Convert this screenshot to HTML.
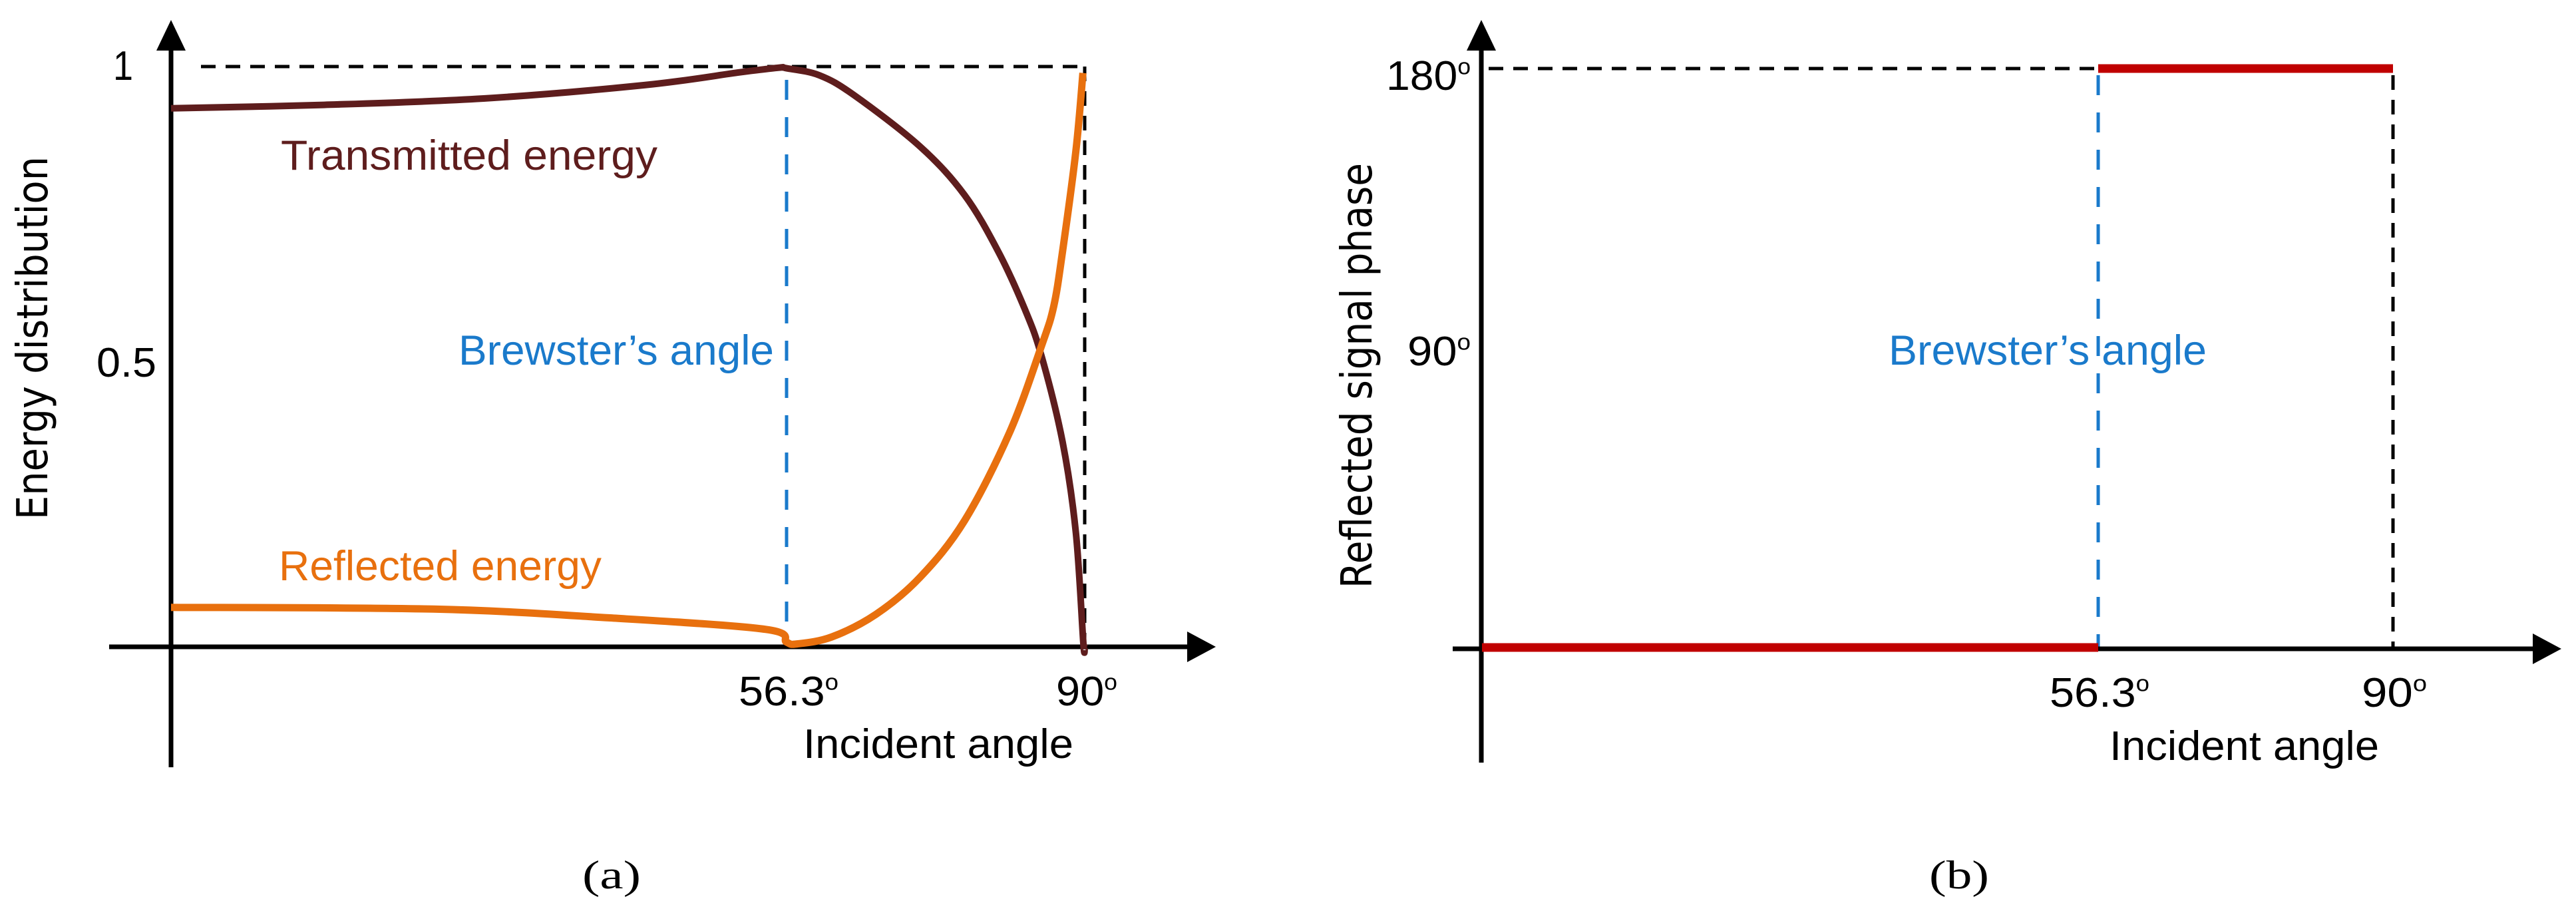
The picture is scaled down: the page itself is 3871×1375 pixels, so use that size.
<!DOCTYPE html>
<html><head><meta charset="utf-8">
<style>
html,body{margin:0;padding:0;background:#fff;}
svg{display:block;}
.lbl{font-family:"Liberation Sans",sans-serif;}
.ttl{font-family:"DejaVu Sans","Liberation Sans",sans-serif;}
.cap{font-family:"Liberation Serif",serif;}
</style></head>
<body>
<svg id="fig" width="3871" height="1375" viewBox="0 0 3871 1375" xmlns="http://www.w3.org/2000/svg">
  <g id="panelA"></g>
  <g id="panelB"></g>
</svg>
<script>
// ---- data ----
const xTickAngles = [0, 56.3, 90];
const xTickLabels = ["", "56.3", "90"];
const transAngles = [0, 14, 28.6, 43.3, 52, 55.6, 56.3, 60, 63.9, 71.4, 76.4, 80.2, 83.2, 85.1, 87.5, 89.0, 89.85, 90];
const transValues = [0.928, 0.934, 0.945, 0.968, 0.99, 0.998, 0.997, 0.985, 0.951, 0.862, 0.779, 0.682, 0.583, 0.502, 0.353, 0.197, 0.006, 0];
const reflAngles = [0, 24, 40, 54.4, 56.3, 57.5, 61.4, 66.4, 71.4, 76.4, 81.5, 85.1, 86.5, 87.5, 89.0, 89.8];
const reflValues = [0.068, 0.065, 0.05, 0.03, 0.008, 0.005, 0.017, 0.056, 0.12, 0.217, 0.369, 0.518, 0.587, 0.682, 0.854, 0.989];
const phaseAngles = [0, 56.3, 56.3, 90];
const phaseValues = [0, 0, 180, 180];
const yTicksA = [1, 0.5];
const yTickLabelsA = ["1", "0.5"];
const yTicksB = [180, 90];
const yTickLabelsB = ["180", "90"];

const NS = "http://www.w3.org/2000/svg";
function mk(parent, tag, attrs){ const e=document.createElementNS(NS,tag); for(const k in attrs) e.setAttribute(k,attrs[k]); parent.appendChild(e); return e; }

function makeX(p0,p1,p2){ return a => a<=56.3 ? p0+(a/56.3)*(p1-p0) : p1+((a-56.3)/33.7)*(p2-p1); }
const xA = makeX(257,1182,1630);
const yA = v => 972 - v*872;
const xB = makeX(2227,3153,3596);
const yB = v => 973 - v/180*870;

function smooth(pts){
  let d="M"+pts[0][0]+","+pts[0][1];
  for(let i=0;i<pts.length-1;i++){
    const p0=pts[Math.max(0,i-1)],p1=pts[i],p2=pts[i+1],p3=pts[Math.min(pts.length-1,i+2)];
    const c1=[p1[0]+(p2[0]-p0[0])/6,p1[1]+(p2[1]-p0[1])/6];
    const c2=[p2[0]-(p3[0]-p1[0])/6,p2[1]-(p3[1]-p1[1])/6];
    d+=" C"+c1[0].toFixed(1)+","+c1[1].toFixed(1)+" "+c2[0].toFixed(1)+","+c2[1].toFixed(1)+" "+p2[0].toFixed(1)+","+p2[1].toFixed(1);
  }
  return d;
}
function txt(g, s, x, y, size, cls, fill, len, name, deg){
  const t=mk(g,"text",{x:x,y:y,"font-size":size,"class":cls,fill:fill});
  
  
  t.appendChild(document.createTextNode(s));
  if(deg){ const ts=mk(t,"tspan",{"font-size":size*0.55,dy:-size*0.38}); ts.appendChild(document.createTextNode("o")); }
  if(len){ t.setAttribute("textLength",len); t.setAttribute("lengthAdjust","spacingAndGlyphs"); }
  return t;
}

// ---- Panel A ----
const A=document.getElementById("panelA");
let e;
e=mk(A,"line",{x1:xA(0)+45,y1:yA(1),x2:xA(90),y2:yA(1),stroke:"#000","stroke-width":5,"stroke-dasharray":"22,15"});
 
e=mk(A,"line",{x1:xA(90),y1:yA(1),x2:xA(90),y2:yA(0),stroke:"#000","stroke-width":5,"stroke-dasharray":"22,15"});
 
e=mk(A,"line",{x1:xA(56.3),y1:yA(1)+20,x2:xA(56.3),y2:yA(0),stroke:"#1a7acb","stroke-width":5,"stroke-dasharray":"30,26"});
 
e=mk(A,"line",{x1:257,y1:1153,x2:257,y2:75,stroke:"#000","stroke-width":7});
 
e=mk(A,"polygon",{points:"257,30 235,76 279,76",fill:"#000"});
 
e=mk(A,"line",{x1:164,y1:972,x2:1790,y2:972,stroke:"#000","stroke-width":7});
 
e=mk(A,"polygon",{points:"1827,972 1784,949 1784,995",fill:"#000"});
 
let pts=transAngles.map((a,i)=>[xA(a),yA(transValues[i])]);
e=mk(A,"path",{d:smooth(pts),fill:"none",stroke:"#5e1d1d","stroke-width":10});
 
pts=reflAngles.map((a,i)=>[xA(a),yA(reflValues[i])]);
e=mk(A,"path",{d:smooth(pts),fill:"none",stroke:"#e8700e","stroke-width":11});
 
txt(A,"Transmitted energy",422,255,63,"lbl","#5e1d1d",566,"transmitted-energy-label");
txt(A,"Reflected energy",419,872,63,"lbl","#e8700e",485,"reflected-energy-label");
txt(A,"Brewster\u2019s angle",689,548,63,"lbl","#1a7acb",474,"brewster-angle-label");
txt(A,yTickLabelsA[0],170,120,62,"lbl","#000",30,"y-tick-1");
txt(A,yTickLabelsA[1],145,566,62,"lbl","#000",90,"y-tick-0-5");
txt(A,xTickLabels[1],1110,1060,62,"lbl","#000",150,"x-tick-56-3",true);
txt(A,xTickLabels[2],1587,1060,62,"lbl","#000",92,"x-tick-90",true);
txt(A,"Incident angle",1207,1139,62,"lbl","#000",406,"x-axis-title");
e=txt(A,"Energy distribution",0,0,64,"ttl","#000",546,"y-axis-title");
e.setAttribute("transform","translate(71,781) rotate(-90)");
txt(A,"(a)",875,1335,60,"cap","#000",88,"caption-a");

// ---- Panel B ----
const B=document.getElementById("panelB");
e=mk(B,"line",{x1:xB(0)+10,y1:yB(180),x2:xB(56.3),y2:yB(180),stroke:"#000","stroke-width":5,"stroke-dasharray":"22,15"});
 
e=mk(B,"line",{x1:xB(90),y1:yB(180)+10,x2:xB(90),y2:yB(0),stroke:"#000","stroke-width":5,"stroke-dasharray":"22,15"});
 
e=mk(B,"line",{x1:xB(56.3),y1:yB(180)+10,x2:xB(56.3),y2:yB(0),stroke:"#1a7acb","stroke-width":5,"stroke-dasharray":"30,26"});
 
e=mk(B,"line",{x1:2226,y1:1146,x2:2226,y2:75,stroke:"#000","stroke-width":7});
 
e=mk(B,"polygon",{points:"2226,30 2204,76 2248,76",fill:"#000"});
 
e=mk(B,"line",{x1:2183,y1:975,x2:3810,y2:975,stroke:"#000","stroke-width":7});
 
e=mk(B,"polygon",{points:"3849,975 3806,952 3806,998",fill:"#000"});
 
for(let i=0;i<phaseAngles.length-1;i++){
  if(phaseValues[i]!==phaseValues[i+1]) continue;
  e=mk(B,"line",{x1:xB(phaseAngles[i]),y1:yB(phaseValues[i]),x2:xB(phaseAngles[i+1]),y2:yB(phaseValues[i+1]),stroke:"#c00000","stroke-width":13});
  
  
}
txt(B,"Brewster\u2019s angle",2838,548,63,"lbl","#1a7acb",478,"brewster-angle-label-b");
txt(B,yTickLabelsB[0],2083,135,62,"lbl","#000",127,"y-tick-180",true);
txt(B,yTickLabelsB[1],2115,549,62,"lbl","#000",95,"y-tick-90",true);
txt(B,xTickLabels[1],3080,1062,62,"lbl","#000",150,"x-tick-56-3-b",true);
txt(B,xTickLabels[2],3549,1062,62,"lbl","#000",98,"x-tick-90-b",true);
txt(B,"Incident angle",3170,1142,62,"lbl","#000",405,"x-axis-title-b");
e=txt(B,"Reflected signal phase",0,0,64,"ttl","#000",639,"y-axis-title-b");
e.setAttribute("transform","translate(2061,884) rotate(-90)");
txt(B,"(b)",2899,1335,60,"cap","#000",90,"caption-b");
</script>
</body></html>
